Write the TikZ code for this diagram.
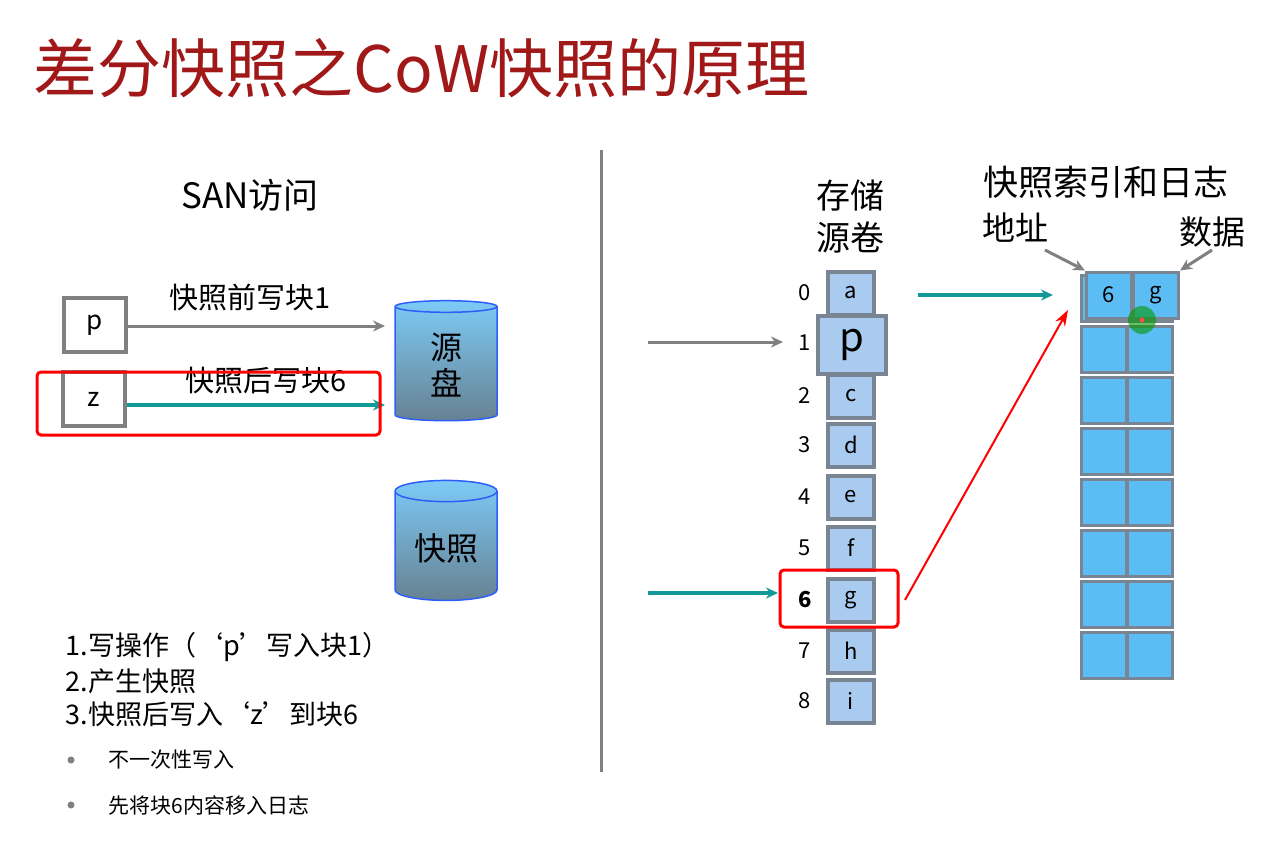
\documentclass[tikz,border=0pt]{standalone}
\usepackage{fontspec}
\setmainfont{Noto Sans CJK SC}
\newfontfamily\titlefont{Noto Sans CJK SC}
\usetikzlibrary{shapes.geometric,arrows.meta}
\definecolor{dred}{HTML}{A01818}
\definecolor{cellb}{HTML}{A9CBEF}
\definecolor{cellr}{HTML}{5CBDF5}
\definecolor{bord}{HTML}{7A8594}
\definecolor{teal1}{HTML}{139A98}
\definecolor{gr}{HTML}{808080}
\tikzset{
 lcell/.style={draw=bord,line width=4pt,fill=cellb,minimum width=46pt,minimum height=43pt,inner sep=0pt,font=\fontsize{22}{22}\selectfont},
 rcell/.style={draw=bord,line width=3pt,fill=cellr,minimum width=45pt,minimum height=46pt,inner sep=0pt},
 num/.style={font=\fontsize{22}{22}\selectfont},
 lbl/.style={font=\fontsize{29}{29}\selectfont},
 garr/.style={draw=gr,line width=3pt,-{Stealth[length=12pt,width=11pt]}},
 tarr/.style={draw=teal1,line width=3.5pt,-{Stealth[length=12pt,width=11pt]}},
 wbox/.style={draw=gr,line width=4pt,fill=white,minimum width=62pt,minimum height=54pt,font=\fontsize{26}{26}\selectfont},
 redr/.style={draw=red,line width=3pt,rounded corners=4pt},
 cyl/.style={cylinder,shape border rotate=90,aspect=0.3,draw=cellr!50!blue,line width=1.5pt,minimum width=102pt,minimum height=120pt,top color=cellr!80,bottom color=cellr!40!black!70,font=\fontsize{32}{36}\selectfont,align=center},
}
\begin{document}
\begin{tikzpicture}[x=1pt,y=-1pt]
\useasboundingbox[fill=white] (0,0) rectangle (1285,848);
\node[anchor=west,text=dred,font=\titlefont\fontsize{64}{64}\selectfont] (title) at (30,68) {差分快照之CoW快照的原理};
\node[font=\fontsize{35}{35}\selectfont] (san) at (250,195) {SAN访问};
\node[wbox] (p) at (95,325) {p};
\node[wbox] (z) at (94,399) {z};
\node[cyl] (src) at (446,365) {源\\盘};
\node[cyl] (snap) at (446,548) {快照};
\coordinate (pe) at (385,326);
\coordinate (ze) at (385,405);
\draw[garr] (p.east|-pe) -- (pe);
\draw[tarr] (z.east|-ze) -- (ze);
\node[lbl] (t1) at (250,297) {快照前写块1};
\node[lbl] (t2) at (266,381) {快照后写块6};
\draw[redr] (37,372) rectangle (380,435);
\node[lbl,anchor=west,font=\fontsize{27}{27}\selectfont] (l1) at (62,647) {1.写操作（‘p’写入块1）};
\node[lbl,anchor=west,font=\fontsize{27}{27}\selectfont] (l2) at (62,681) {2.产生快照};
\node[lbl,anchor=west,font=\fontsize{27}{27}\selectfont] (l3) at (62,714) {3.快照后写入‘z’到块6};
\fill[gr] (71,760) circle (3.5pt);
\fill[gr] (71,805) circle (3.5pt);
\node[anchor=west,font=\fontsize{21}{21}\selectfont] (b1) at (105,760) {不一次性写入};
\node[anchor=west,font=\fontsize{21}{21}\selectfont] (b2) at (105,805) {先将块6内容移入日志};
\draw[gr,line width=3pt] (601,150) -- (601,772);
\node[font=\fontsize{34}{42}\selectfont,align=center] (vol) at (850,217) {存储\\源卷};
\foreach \i/\y/\t in {0/293/a,2/396/c,3/445/d,4/497/e,5/548/f,6/600/g,7/651/h,8/701/i}{
  \node[lcell] (c\i) at (851,\y) {\t};
}
\foreach \i/\y in {0/293,2/396,3/445,4/497,5/548,7/651,8/701}{
  \node[num] (n\i) at (805,\y) {\i};
}
\node[num,font=\bfseries\fontsize{22}{22}\selectfont] (n6) at (805,600) {6};
\node[lcell,minimum width=68pt,minimum height=58pt,font=\fontsize{40}{40}\selectfont] (c1) at (852,345) {p};
\node[num] (n1) at (805,343) {1};
\coordinate (a1s) at (648,342);
\draw[garr] (a1s) -- (783,342);
\coordinate (a6s) at (648,593);
\draw[tarr] (a6s) -- (778,593);
\draw[redr] (780,570) rectangle (898,627);
\foreach \k in {1,...,8}{
  \node[rcell] (r\k a) at (1104,{272+51*\k-25}) {};
  \node[rcell] (r\k b) at (1150,{272+51*\k-25}) {};
}
\node[rcell] (t6) at (1109,295) {\fontsize{22}{22}\selectfont 6};
\node[rcell] (tg) at (1156,295) {\fontsize{22}{22}\selectfont g};
\fill[green!60!black,opacity=0.6] (1142,320) circle (14pt);
\fill[red!70] (1142,320) circle (2.5pt);
\coordinate (a0s) at (918,295);
\draw[tarr] (a0s) -- (1053,295);
\coordinate (rs) at (905,600);
\draw[red,line width=2pt,-{Stealth[length=16pt,width=11pt]}] (rs) -- (1068,310);
\node[font=\fontsize{35}{35}\selectfont] (hdr) at (1106,182) {快照索引和日志};
\node[font=\fontsize{33}{33}\selectfont] (addr) at (1015,228) {地址};
\node[font=\fontsize{33}{33}\selectfont] (data) at (1212,232) {数据};
\draw[garr] (1045,250) -- (t6.north west);
\draw[garr] (1212,250) -- (tg.north east);
\end{tikzpicture}
\end{document}
